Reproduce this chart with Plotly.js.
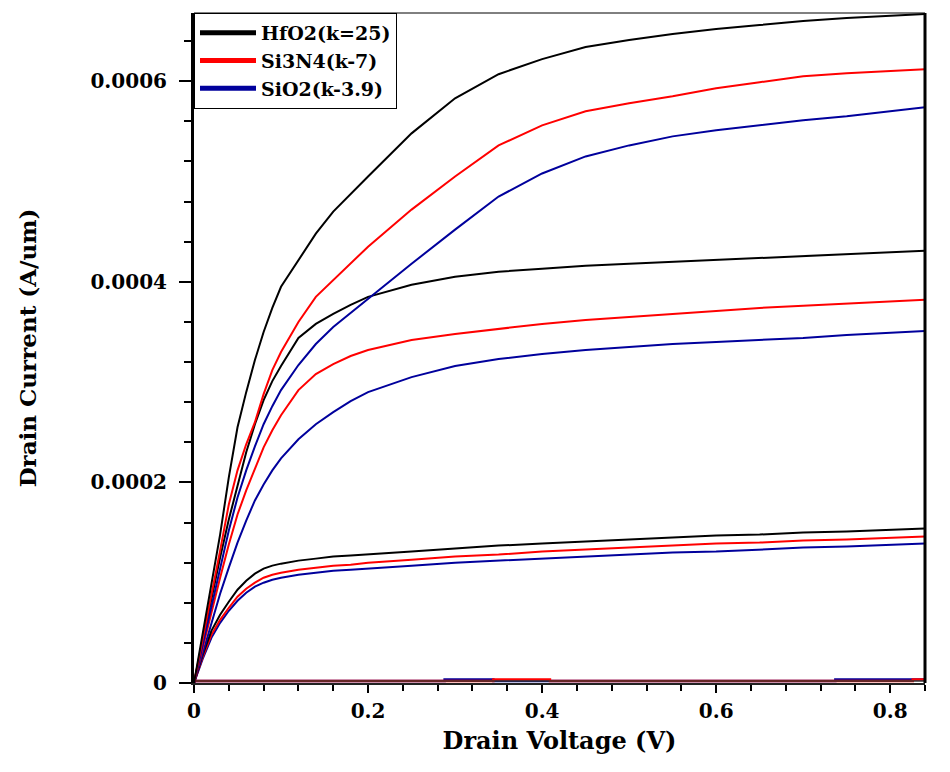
<!DOCTYPE html>
<html>
<head>
<meta charset="utf-8">
<script src="https://cdn.plot.ly/plotly-3.0.1.min.js"></script>
<style>
  html, body { margin: 0; padding: 0; background: #ffffff; }
  #chart { width: 950px; height: 772px; }
</style>
</head>
<body>
<div id="chart"></div>
<script>
// Drain voltage sweep (V)
const drainVoltage = [0, 0.01, 0.02, 0.03, 0.04, 0.05, 0.06, 0.07, 0.08, 0.09, 0.1,
  0.12, 0.14, 0.16, 0.18, 0.2, 0.25, 0.3, 0.35, 0.4, 0.45, 0.5, 0.55, 0.6, 0.65,
  0.7, 0.75, 0.8, 0.84];

// Drain current (A/um), highest gate bias
const hfo2High = [0, 0.000048, 0.000098, 0.000148, 0.000205, 0.000255, 0.00029, 0.000322, 0.00035, 0.000374, 0.000395,
  0.000422, 0.000448, 0.00047, 0.000488, 0.000505, 0.000548, 0.000583, 0.000607, 0.000622, 0.000634, 0.000641, 0.000647, 0.000652, 0.000656,
  0.00066, 0.000663, 0.000665, 0.000667];
const si3n4High = [0, 0.000043, 0.000088, 0.000132, 0.000178, 0.000212, 0.000238, 0.00026, 0.000288, 0.000312, 0.00033,
  0.00036, 0.000385, 0.000402, 0.000418, 0.000435, 0.000472, 0.000505, 0.000536, 0.000556, 0.00057, 0.000578, 0.000585, 0.000593, 0.000599,
  0.000605, 0.000608, 0.00061, 0.000612];
const sio2High = [0, 0.000038, 0.000077, 0.000115, 0.000152, 0.000185, 0.000212, 0.000236, 0.000258, 0.000276, 0.000292,
  0.000317, 0.000338, 0.000355, 0.000369, 0.000383, 0.000418, 0.000452, 0.000485, 0.000508, 0.000525, 0.000536, 0.000545, 0.000551, 0.000556,
  0.000561, 0.000565, 0.00057, 0.000574];

// Drain current (A/um), middle gate bias
const hfo2Mid = [0, 0.000042, 0.000084, 0.000125, 0.000163, 0.000198, 0.00023, 0.000258, 0.000282, 0.000301, 0.000316,
  0.000344, 0.000358, 0.000368, 0.000377, 0.000385, 0.000397, 0.000405, 0.00041, 0.000413, 0.000416, 0.000418, 0.00042, 0.000422, 0.000424,
  0.000426, 0.000428, 0.00043, 0.000431];
const si3n4Mid = [0, 0.000036, 0.000071, 0.000105, 0.000138, 0.000168, 0.000192, 0.000214, 0.000235, 0.000252, 0.000267,
  0.000292, 0.000308, 0.000318, 0.000326, 0.000332, 0.000342, 0.000348, 0.000353, 0.000358, 0.000362, 0.000365, 0.000368, 0.000371, 0.000374,
  0.000376, 0.000378, 0.00038, 0.000382];
const sio2Mid = [0, 0.00003, 0.00006, 0.000089, 0.000115, 0.00014, 0.000162, 0.000182, 0.000198, 0.000212, 0.000224,
  0.000243, 0.000258, 0.00027, 0.000281, 0.00029, 0.000305, 0.000316, 0.000323, 0.000328, 0.000332, 0.000335, 0.000338, 0.00034, 0.000342,
  0.000344, 0.000347, 0.000349, 0.000351];

// Drain current (A/um), low gate bias
const hfo2Low = [0, 0.000028, 0.000052, 0.000068, 0.000081, 0.000093, 0.000102, 0.000109, 0.000114, 0.000117, 0.000119,
  0.000122, 0.000124, 0.000126, 0.000127, 0.000128, 0.000131, 0.000134, 0.000137, 0.000139, 0.000141, 0.000143, 0.000145, 0.000147, 0.000148,
  0.00015, 0.000151, 0.000153, 0.000154];
const si3n4Low = [0, 0.000026, 0.000048, 0.000063, 0.000075, 0.000086, 0.000094, 0.0001, 0.000105, 0.000108, 0.00011,
  0.000113, 0.000115, 0.000117, 0.000118, 0.00012, 0.000123, 0.000126, 0.000128, 0.000131, 0.000133, 0.000135, 0.000137, 0.000139, 0.00014,
  0.000142, 0.000143, 0.000145, 0.000146];
const sio2Low = [0, 0.000024, 0.000045, 0.00006, 0.000072, 0.000082, 0.00009, 0.000096, 0.0001, 0.000103, 0.000105,
  0.000108, 0.00011, 0.000112, 0.000113, 0.000114, 0.000117, 0.00012, 0.000122, 0.000124, 0.000126, 0.000128, 0.00013, 0.000131, 0.000133,
  0.000135, 0.000136, 0.000138, 0.000139];

// Off-state (zero gate bias) leakage, stepwise readout (A/um)
const sio2OffV = [0, 0.288, 0.344, 0.737, 0.84];
const sio2OffI = [0.000002, 0.0000035, 0.000002, 0.0000035, 0.0000035];
const si3n4OffV = [0, 0.344, 0.409, 0.826, 0.84];
const si3n4OffI = [0.000002, 0.0000035, 0.000002, 0.0000035, 0.0000035];
const hfo2OffV = [0, 0.84];
const hfo2OffI = [0.000002, 0.000002];

// Legend labels and colours
const materialNames = ["HfO2(k=25)", "Si3N4(k-7)", "SiO2(k-3.9)"];
const materialColors = ["#000000", "#ff0000", "#00009c"];

// Axis ticks
const xTickVals = [0, 0.2, 0.4, 0.6, 0.8];
const xTickText = ["0", "0.2", "0.4", "0.6", "0.8"];
const yTickVals = [0, 0.0002, 0.0004, 0.0006];
const yTickText = ["0", "0.0002", "0.0004", "0.0006"];

const serif = "DejaVu Serif, Liberation Serif, serif";

function curve(y, color, width) {
  return {
    x: drainVoltage, y: y, type: "scatter", mode: "lines",
    line: { color: color, width: width }, showlegend: false, hoverinfo: "skip"
  };
}
function stepCurve(x, y, color, width) {
  return {
    x: x, y: y, type: "scatter", mode: "lines",
    line: { color: color, width: width, shape: "hv" }, showlegend: false, hoverinfo: "skip"
  };
}

const traces = [
  stepCurve(sio2OffV, sio2OffI, materialColors[2], 2.5),
  stepCurve(si3n4OffV, si3n4OffI, materialColors[1], 2.5),
  stepCurve(hfo2OffV, hfo2OffI, "#333333", 1.5),
  curve(sio2Low, materialColors[2], 2),
  curve(si3n4Low, materialColors[1], 2),
  curve(hfo2Low, materialColors[0], 2),
  curve(sio2Mid, materialColors[2], 2),
  curve(si3n4Mid, materialColors[1], 2),
  curve(hfo2Mid, materialColors[0], 2),
  curve(sio2High, materialColors[2], 2),
  curve(si3n4High, materialColors[1], 2),
  curve(hfo2High, materialColors[0], 2)
];

// Legend-only entries with heavier sample lines
materialNames.forEach(function (name, i) {
  traces.push({
    x: [null], y: [null], type: "scatter", mode: "lines", name: name,
    line: { color: materialColors[i], width: 5 }, hoverinfo: "skip"
  });
});

const layout = {
  width: 950, height: 772,
  margin: { l: 194, r: 25, t: 13, b: 89, pad: 0 },
  paper_bgcolor: "#ffffff", plot_bgcolor: "#ffffff",
  showlegend: true,
  legend: {
    x: 0, y: 1, xanchor: "left", yanchor: "top",
    bgcolor: "#ffffff", bordercolor: "#000000", borderwidth: 1,
    font: { family: serif, size: 19, color: "#000000", weight: "bold" },
    itemwidth: 56, tracegroupgap: 0
  },
  xaxis: {
    range: [0, 0.84], showgrid: false, zeroline: false,
    showline: true, linecolor: "#222222", linewidth: 2,
    tickmode: "array", tickvals: xTickVals, ticktext: xTickText,
    ticks: "outside", ticklen: 8, tickwidth: 2, tickcolor: "#000000",
    ticklabelstandoff: 1,
    minor: { dtick: 0.04, tick0: 0, ticks: "outside", ticklen: 6, tickwidth: 2, tickcolor: "#000000", showgrid: false },
    tickfont: { family: serif, size: 20, color: "#000000", weight: "bold" },
    title: { text: "Drain Voltage (V)", standoff: 10,
      font: { family: serif, size: 24, color: "#000000", weight: "bold" } }
  },
  yaxis: {
    range: [0, 0.000668], showgrid: false, zeroline: false,
    showline: true, linecolor: "#000000", linewidth: 3,
    tickmode: "array", tickvals: yTickVals, ticktext: yTickText,
    ticks: "outside", ticklen: 12, tickwidth: 2, tickcolor: "#000000",
    ticklabelstandoff: 8,
    minor: { dtick: 0.00004, tick0: 0, ticks: "outside", ticklen: 7, tickwidth: 2, tickcolor: "#000000", showgrid: false },
    tickfont: { family: serif, size: 20, color: "#000000", weight: "bold" },
    title: { text: "Drain Current (A/um)", standoff: 48,
      font: { family: serif, size: 23, color: "#000000", weight: "bold" } }
  },
  shapes: [
    { type: "line", xref: "paper", yref: "paper", x0: 1, x1: 1, y0: 0, y1: 1,
      line: { color: "#000000", width: 3 } },
    { type: "line", xref: "paper", yref: "paper", x0: 0, x1: 1, y0: 1, y1: 1,
      line: { color: "#000000", width: 1 } }
  ]
};

Plotly.newPlot("chart", traces, layout, { displayModeBar: false, staticPlot: true });
</script>
</body>
</html>
